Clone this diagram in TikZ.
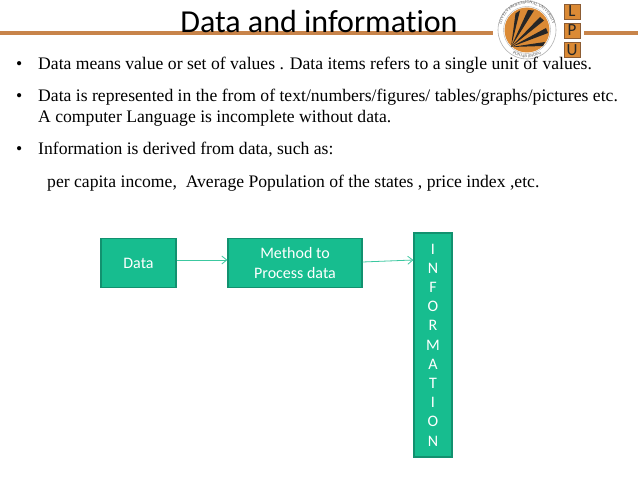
\documentclass[tikz,border=0pt]{standalone}
\usepackage{fontspec}
\setmainfont{Liberation Serif}
\newfontfamily\carl[Ligatures=CommonOff]{Carlito}
\definecolor{teal1}{HTML}{17BD8F}
\definecolor{teal2}{HTML}{12916F}
\definecolor{arrowc}{HTML}{3CC8A0}
\definecolor{orng}{HTML}{C8844A}
\definecolor{lpuo}{HTML}{DB8A35}
\usetikzlibrary{arrows.meta,decorations.text}
\tikzset{
 body/.style={anchor=base west,inner sep=0pt,font=\fontsize{17.63}{22}\selectfont,text=black},
 box/.style={draw=teal2,fill=teal1,line width=1.2pt,text=white,font=\carl\fontsize{16}{19.2}\selectfont,align=center,inner sep=0pt},
 conn/.style={draw=arrowc,line width=.8pt,-{Straight Barb[length=5pt,width=8pt]}},
 lpu/.style={draw=orng!70!black,fill=lpuo,line width=.6pt,minimum width=16pt,minimum height=15pt,inner sep=0pt,font=\carl\fontsize{17}{17}\selectfont,text=black!85},
 ray/.style={fill=black!85}
}
\begin{document}
\begin{tikzpicture}[x=1pt,y=-1pt]
\useasboundingbox (0,0) rectangle (638,478);
\fill[white] (0,0) rectangle (638,478);
\coordinate (rl1) at (0,33); \coordinate (rl2) at (493,33);
\coordinate (rl3) at (584,33); \coordinate (rl4) at (638,33);
\draw[orng,line width=3.6pt] (rl1)--(rl2) (rl3)--(rl4);
\node[anchor=base,inner sep=0pt,font=\carl\fontsize{32}{32}\selectfont] (title) at (319,32.7) {Data and information};
% logo
\fill[white] (527,30) circle (29.5);
\draw[gray!60,line width=.6pt] (527,30) circle (29);
\draw[gray!60,line width=.4pt] (527,30) circle (23.5);
\fill[lpuo] (527,30) circle (22.5);
\fill[ray] (511,47) -- (515.5,13.5) -- (520,10.5) -- cycle;
\fill[ray] (511,47) -- (528,10) -- (534,10.5) -- cycle;
\fill[ray] (511,47) -- (540,17) -- (544,20.5) -- cycle;
\fill[ray] (511,47) -- (546,28) -- (548,33) -- cycle;
\fill[ray] (511,47) -- (545,42) -- (543,46) -- cycle;
\path[postaction={decorate,decoration={text along path,text align=center,
  text={|\fontsize{4}{4}\selectfont\color{black!70}|LOVELY PROFESSIONAL UNIVERSITY}}}]
  (502.4,39) arc[start angle=160,end angle=380,radius=26.2];
\path[postaction={decorate,decoration={text along path,text align=center,
  text={|\fontsize{4}{4}\selectfont\color{black!70}|PUNJAB (INDIA)}}}]
  (509.3,51.1) arc[start angle=130,end angle=50,radius=27.5];
\node[lpu] (l) at (572,11.5) {L};
\node[lpu] (p) at (572,30.5) {P};
\node[lpu] (u) at (572,50) {U};
% text
\node[body] (b1) at (16,70) {•};
\node[body] (t1) at (38,70) {Data means value or set of values . Data items refers to a single unit of values.};
\node[body] (b2) at (16,101.7) {•};
\node[body] (t2) at (38,101.7) {Data is represented in the from of text/numbers/figures/ tables/graphs/pictures etc.};
\node[body] (t3) at (38,122.7) {A computer Language is incomplete without data.};
\node[body] (b3) at (16,155) {•};
\node[body] (t4) at (38,155) {Information is derived from data, such as:};
\node[body] (t5) at (47,188) {per capita income,\ \ Average Population of the states , price index ,etc.};
% diagram
\node[box,minimum width=75pt,minimum height=49pt] (data) at (138.5,263) {Data};
\node[box,minimum width=134pt,minimum height=49pt] (method) at (295,263) {Method to\\Process data};
\node[box,minimum width=38pt,minimum height=224pt] (info) at (433,345) {I\\N\\F\\O\\R\\M\\A\\T\\I\\O\\N};
\draw[conn] (data.east |- 0,260) -- (method.west |- 0,260);
\draw[conn] (method.east |- 0,262) -- (info.west |- 0,260);
\end{tikzpicture}
\end{document}
